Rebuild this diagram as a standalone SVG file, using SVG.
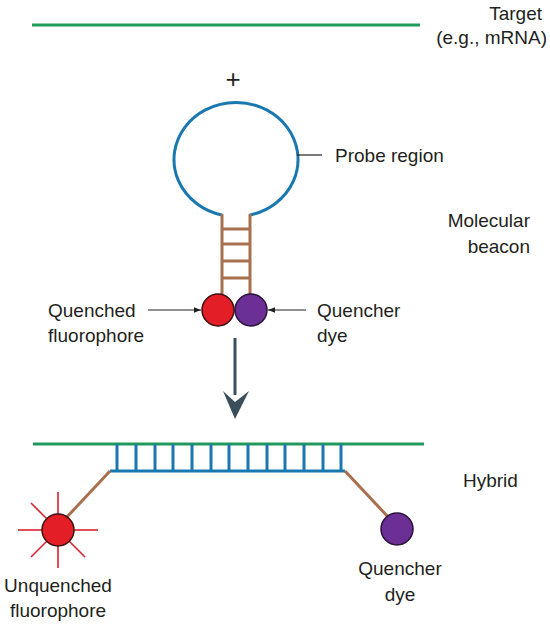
<svg xmlns="http://www.w3.org/2000/svg" width="550" height="626" viewBox="0 0 550 626">
<style>
text{font-family:"Liberation Sans",Arial,sans-serif;font-size:19px;fill:#231f20}
.green{stroke:#1f9a5c;stroke-width:3;fill:none}
.blue{stroke:#1a78b0;stroke-width:3;fill:none}
.brown{stroke:#a9704f;stroke-width:3;fill:none}
.ray{stroke:#d9212b;stroke-width:1.6}
.red{fill:#e31e26;stroke:#3a1010;stroke-width:1.5}
.purple{fill:#6b2f96;stroke:#2a1238;stroke-width:1.5}
.lbl{stroke:#231f20;stroke-width:1.2}
</style>
<defs>
<marker id="ah" viewBox="0 0 10 10" refX="10" refY="5" markerWidth="7" markerHeight="7" markerUnits="userSpaceOnUse" orient="auto"><path d="M0,1 L10,5 L0,9 Z" fill="#231f20"/></marker>
</defs>
<rect width="550" height="626" fill="#fff"/>

<g id="target">
<line class="green" x1="32" y1="25" x2="420" y2="25"/>
<text x="542" y="20" text-anchor="end">Target</text>
<text x="547" y="44" text-anchor="end">(e.g., mRNA)</text>
</g>
<text id="plus" x="233" y="88" text-anchor="middle" style="font-size:26px">+</text>

<g id="beacon">
<path class="blue" d="M222,215 A62,57 0 1 1 250,215"/>
<line class="brown" x1="222" y1="214" x2="222" y2="296"/>
<line class="brown" x1="250" y1="214" x2="250" y2="296"/>
<g class="brown">
<line x1="222" y1="229" x2="250" y2="229"/>
<line x1="222" y1="244" x2="250" y2="244"/>
<line x1="222" y1="261" x2="250" y2="261"/>
<line x1="222" y1="278" x2="250" y2="278"/>
</g>
<circle class="red" cx="218" cy="310" r="16"/>
<circle class="purple" cx="251" cy="310" r="16"/>
</g>

<g id="labels-top">
<text x="335" y="162">Probe region</text>
<text x="530" y="227" text-anchor="end">Molecular</text>
<text x="530" y="253" text-anchor="end">beacon</text>
<text x="48" y="317">Quenched</text>
<text x="48" y="342">fluorophore</text>
<text x="317" y="317">Quencher</text>
<text x="317" y="342">dye</text>
</g>

<g id="connectors">
<line class="lbl" x1="297" y1="155" x2="322" y2="155"/>
<line class="lbl" x1="148" y1="310" x2="201" y2="310" marker-end="url(#ah)"/>
<line class="lbl" x1="306" y1="310" x2="268" y2="310" marker-end="url(#ah)"/>
<line x1="235" y1="338" x2="235" y2="395" stroke="#3b4f5b" stroke-width="3"/>
<path d="M223,391 L235,419 L249,391 L235,402 Z" fill="#3b4f5b"/>
</g>

<g id="hybrid">
<line class="green" x1="33" y1="444" x2="424" y2="444"/>
<line class="blue" x1="110" y1="471" x2="345" y2="471"/>
<g class="blue">
<line x1="117" y1="444" x2="117" y2="471"/>
<line x1="136" y1="444" x2="136" y2="471"/>
<line x1="155" y1="444" x2="155" y2="471"/>
<line x1="173" y1="444" x2="173" y2="471"/>
<line x1="192" y1="444" x2="192" y2="471"/>
<line x1="211" y1="444" x2="211" y2="471"/>
<line x1="229" y1="444" x2="229" y2="471"/>
<line x1="248" y1="444" x2="248" y2="471"/>
<line x1="267" y1="444" x2="267" y2="471"/>
<line x1="285" y1="444" x2="285" y2="471"/>
<line x1="304" y1="444" x2="304" y2="471"/>
<line x1="323" y1="444" x2="323" y2="471"/>
<line x1="341" y1="444" x2="341" y2="471"/>
</g>
<line class="brown" x1="110" y1="471" x2="66" y2="518"/>
<line class="brown" x1="345" y1="471" x2="390" y2="519"/>
</g>

<g id="unquenched-fluorophore">
<g class="ray">
<line x1="58" y1="515" x2="58" y2="492"/>
<line x1="47" y1="519" x2="31" y2="503"/>
<line x1="43" y1="530" x2="18" y2="530"/>
<line x1="47" y1="541" x2="31" y2="557"/>
<line x1="58" y1="545" x2="58" y2="568"/>
<line x1="69" y1="541" x2="85" y2="557"/>
<line x1="73" y1="530" x2="98" y2="530"/>
</g>
<circle class="red" cx="58" cy="530" r="16"/>
<text x="58" y="592" text-anchor="middle">Unquenched</text>
<text x="58" y="617" text-anchor="middle">fluorophore</text>
</g>

<g id="quencher-dye">
<circle class="purple" cx="397" cy="529" r="16"/>
<text x="400" y="575" text-anchor="middle">Quencher</text>
<text x="400" y="601" text-anchor="middle">dye</text>
</g>

<text id="hybrid-label" x="463" y="487">Hybrid</text>
</svg>
